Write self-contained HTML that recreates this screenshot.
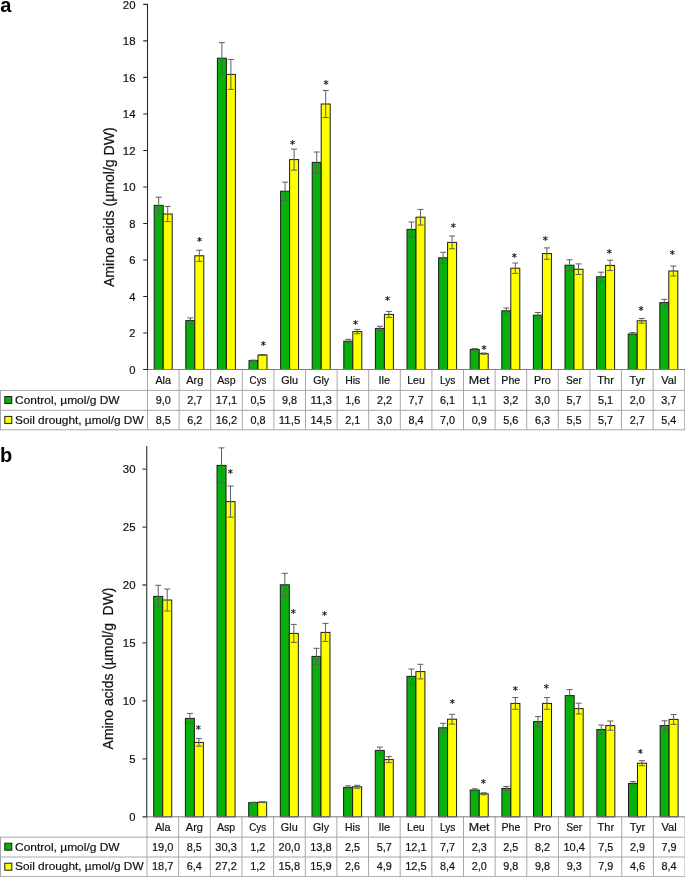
<!DOCTYPE html>
<html lang="en">
<head>
<meta charset="utf-8">
<title>Amino acids under soil drought</title>
<style>
html,body{margin:0;padding:0;background:#fff;}
body{width:685px;height:877px;overflow:hidden;font-family:"Liberation Sans",sans-serif;}
svg{display:block;}
</style>
</head>
<body>
<svg width="685" height="877" viewBox="0 0 685 877">
<rect width="685" height="877" fill="#ffffff"/>
<g id="chart-a">
<g stroke="#a8a8a8" stroke-width="1" fill="none" shape-rendering="auto">
<line x1="147.5" y1="369.5" x2="147.5" y2="429.8"/>
<line x1="179.1" y1="369.5" x2="179.1" y2="429.8"/>
<line x1="210.7" y1="369.5" x2="210.7" y2="429.8"/>
<line x1="242.3" y1="369.5" x2="242.3" y2="429.8"/>
<line x1="273.9" y1="369.5" x2="273.9" y2="429.8"/>
<line x1="305.5" y1="369.5" x2="305.5" y2="429.8"/>
<line x1="337.1" y1="369.5" x2="337.1" y2="429.8"/>
<line x1="368.7" y1="369.5" x2="368.7" y2="429.8"/>
<line x1="400.3" y1="369.5" x2="400.3" y2="429.8"/>
<line x1="431.9" y1="369.5" x2="431.9" y2="429.8"/>
<line x1="463.5" y1="369.5" x2="463.5" y2="429.8"/>
<line x1="495.1" y1="369.5" x2="495.1" y2="429.8"/>
<line x1="526.7" y1="369.5" x2="526.7" y2="429.8"/>
<line x1="558.3" y1="369.5" x2="558.3" y2="429.8"/>
<line x1="589.9" y1="369.5" x2="589.9" y2="429.8"/>
<line x1="621.5" y1="369.5" x2="621.5" y2="429.8"/>
<line x1="653.1" y1="369.5" x2="653.1" y2="429.8"/>
<line x1="684.7" y1="369.5" x2="684.7" y2="429.8"/>
<line x1="0.5" y1="390.4" x2="0.5" y2="429.8"/>
<line x1="0" y1="390.4" x2="685.6" y2="390.4"/>
<line x1="0" y1="410.3" x2="685.6" y2="410.3"/>
<line x1="0" y1="429.8" x2="685.6" y2="429.8"/>
</g>
<g stroke="#1c1c1c" stroke-width="1">
<rect x="154.2" y="205.4" width="9" height="164.1" fill="#08b00c"/>
<rect x="163.2" y="214" width="9" height="155.5" fill="#ffff00"/>
<rect x="185.8" y="320.6" width="9" height="48.9" fill="#08b00c"/>
<rect x="194.8" y="255.8" width="9" height="113.7" fill="#ffff00"/>
<rect x="217.4" y="58.2" width="9" height="311.3" fill="#08b00c"/>
<rect x="226.4" y="74.4" width="9" height="295.1" fill="#ffff00"/>
<rect x="249" y="360.6" width="9" height="8.9" fill="#08b00c"/>
<rect x="258" y="355" width="9" height="14.5" fill="#ffff00"/>
<rect x="280.6" y="191.2" width="9" height="178.3" fill="#08b00c"/>
<rect x="289.6" y="159.6" width="9" height="209.9" fill="#ffff00"/>
<rect x="312.2" y="162.4" width="9" height="207.1" fill="#08b00c"/>
<rect x="321.2" y="104" width="9" height="265.5" fill="#ffff00"/>
<rect x="343.8" y="341.2" width="9" height="28.3" fill="#08b00c"/>
<rect x="352.8" y="331.6" width="9" height="37.9" fill="#ffff00"/>
<rect x="375.4" y="328.4" width="9" height="41.1" fill="#08b00c"/>
<rect x="384.4" y="314.4" width="9" height="55.1" fill="#ffff00"/>
<rect x="407" y="229.4" width="9" height="140.1" fill="#08b00c"/>
<rect x="416" y="217.2" width="9" height="152.3" fill="#ffff00"/>
<rect x="438.6" y="257.8" width="9" height="111.7" fill="#08b00c"/>
<rect x="447.6" y="242.4" width="9" height="127.1" fill="#ffff00"/>
<rect x="470.2" y="349.4" width="9" height="20.1" fill="#08b00c"/>
<rect x="479.2" y="353.6" width="9" height="15.9" fill="#ffff00"/>
<rect x="501.8" y="310.8" width="9" height="58.7" fill="#08b00c"/>
<rect x="510.8" y="268.2" width="9" height="101.3" fill="#ffff00"/>
<rect x="533.4" y="315.2" width="9" height="54.3" fill="#08b00c"/>
<rect x="542.4" y="253.6" width="9" height="115.9" fill="#ffff00"/>
<rect x="565" y="265.2" width="9" height="104.3" fill="#08b00c"/>
<rect x="574" y="269.2" width="9" height="100.3" fill="#ffff00"/>
<rect x="596.6" y="276.8" width="9" height="92.7" fill="#08b00c"/>
<rect x="605.6" y="265.4" width="9" height="104.1" fill="#ffff00"/>
<rect x="628.2" y="334" width="9" height="35.5" fill="#08b00c"/>
<rect x="637.2" y="320.8" width="9" height="48.7" fill="#ffff00"/>
<rect x="659.8" y="302.6" width="9" height="66.9" fill="#08b00c"/>
<rect x="668.8" y="271" width="9" height="98.5" fill="#ffff00"/>
</g>
<line x1="143.4" y1="369.5" x2="685.6" y2="369.5" stroke="#7d7d7d" stroke-width="1"/>
<g stroke="#5f5f5f" stroke-width="1" fill="none">
<path d="M158.7 197.2V213.6M155.7 197.2h6M155.7 213.6h6"/>
<path d="M167.7 206.4V221.6M164.7 206.4h6M164.7 221.6h6"/>
<path d="M190.3 317.9V323.3M187.3 317.9h6M187.3 323.3h6"/>
<path d="M199.3 250.2V261.4M196.3 250.2h6M196.3 261.4h6"/>
<path d="M221.9 42.6V73.8M218.9 42.6h6M218.9 73.8h6"/>
<path d="M230.9 59.4V89.4M227.9 59.4h6M227.9 89.4h6"/>
<path d="M253.5 360.1V361.1M250.5 360.1h6M250.5 361.1h6"/>
<path d="M262.5 354.5V355.5M259.5 354.5h6M259.5 355.5h6"/>
<path d="M285.1 182.1V200.3M282.1 182.1h6M282.1 200.3h6"/>
<path d="M294.1 149.1V170.1M291.1 149.1h6M291.1 170.1h6"/>
<path d="M316.7 152V172.8M313.7 152h6M313.7 172.8h6"/>
<path d="M325.7 90.5V117.5M322.7 90.5h6M322.7 117.5h6"/>
<path d="M348.3 339.4V343M345.3 339.4h6M345.3 343h6"/>
<path d="M357.3 329.4V333.8M354.3 329.4h6M354.3 333.8h6"/>
<path d="M379.9 326.3V330.5M376.9 326.3h6M376.9 330.5h6"/>
<path d="M388.9 311.4V317.4M385.9 311.4h6M385.9 317.4h6"/>
<path d="M411.5 222V236.8M408.5 222h6M408.5 236.8h6"/>
<path d="M420.5 209.4V225M417.5 209.4h6M417.5 225h6"/>
<path d="M443.1 252.3V263.3M440.1 252.3h6M440.1 263.3h6"/>
<path d="M452.1 236V248.8M449.1 236h6M449.1 248.8h6"/>
<path d="M474.7 348.6V350.2M471.7 348.6h6M471.7 350.2h6"/>
<path d="M483.7 353V354.2M480.7 353h6M480.7 354.2h6"/>
<path d="M506.3 308V313.6M503.3 308h6M503.3 313.6h6"/>
<path d="M515.3 263V273.4M512.3 263h6M512.3 273.4h6"/>
<path d="M537.9 312.5V317.9M534.9 312.5h6M534.9 317.9h6"/>
<path d="M546.9 247.9V259.3M543.9 247.9h6M543.9 259.3h6"/>
<path d="M569.5 259.8V270.6M566.5 259.8h6M566.5 270.6h6"/>
<path d="M578.5 263.9V274.5M575.5 263.9h6M575.5 274.5h6"/>
<path d="M601.1 272.2V281.4M598.1 272.2h6M598.1 281.4h6"/>
<path d="M610.1 260.2V270.6M607.1 260.2h6M607.1 270.6h6"/>
<path d="M632.7 332.6V335.4M629.7 332.6h6M629.7 335.4h6"/>
<path d="M641.7 318.4V323.2M638.7 318.4h6M638.7 323.2h6"/>
<path d="M664.3 299.3V305.9M661.3 299.3h6M661.3 305.9h6"/>
<path d="M673.3 266V276M670.3 266h6M670.3 276h6"/>
</g>
<path d="M147.5 3.9V370M143.2 369.5H147.5M143.2 332.99H147.5M143.2 296.48H147.5M143.2 259.97H147.5M143.2 223.46H147.5M143.2 186.95H147.5M143.2 150.44H147.5M143.2 113.93H147.5M143.2 77.42H147.5M143.2 40.91H147.5M143.2 4.4H147.5" stroke="#2b2b2b" stroke-width="1.1" fill="none"/>
<g font-family="'Liberation Sans', sans-serif" font-size="11.5" fill="#111111" stroke="#111111" stroke-width="0.2">
<text x="135.5" y="373.6" text-anchor="end" font-size="11.3" textLength="6.24" lengthAdjust="spacingAndGlyphs">0</text>
<text x="135.5" y="337.09" text-anchor="end" font-size="11.3" textLength="6.24" lengthAdjust="spacingAndGlyphs">2</text>
<text x="135.5" y="300.58" text-anchor="end" font-size="11.3" textLength="6.24" lengthAdjust="spacingAndGlyphs">4</text>
<text x="135.5" y="264.07" text-anchor="end" font-size="11.3" textLength="6.24" lengthAdjust="spacingAndGlyphs">6</text>
<text x="135.5" y="227.56" text-anchor="end" font-size="11.3" textLength="6.24" lengthAdjust="spacingAndGlyphs">8</text>
<text x="135.5" y="191.05" text-anchor="end" font-size="11.3" textLength="12.68" lengthAdjust="spacingAndGlyphs">10</text>
<text x="135.5" y="154.54" text-anchor="end" font-size="11.3" textLength="12.68" lengthAdjust="spacingAndGlyphs">12</text>
<text x="135.5" y="118.03" text-anchor="end" font-size="11.3" textLength="12.68" lengthAdjust="spacingAndGlyphs">14</text>
<text x="135.5" y="81.52" text-anchor="end" font-size="11.3" textLength="12.68" lengthAdjust="spacingAndGlyphs">16</text>
<text x="135.5" y="45.01" text-anchor="end" font-size="11.3" textLength="12.68" lengthAdjust="spacingAndGlyphs">18</text>
<text x="135.5" y="8.5" text-anchor="end" font-size="11.3" textLength="12.68" lengthAdjust="spacingAndGlyphs">20</text>
<text x="163.2" y="383.8" text-anchor="middle" textLength="15.6" lengthAdjust="spacingAndGlyphs">Ala</text>
<text x="194.8" y="383.8" text-anchor="middle" textLength="17.1" lengthAdjust="spacingAndGlyphs">Arg</text>
<text x="226.4" y="383.8" text-anchor="middle" textLength="18.3" lengthAdjust="spacingAndGlyphs">Asp</text>
<text x="258" y="383.8" text-anchor="middle" textLength="16.8" lengthAdjust="spacingAndGlyphs">Cys</text>
<text x="289.6" y="383.8" text-anchor="middle" textLength="16.9" lengthAdjust="spacingAndGlyphs">Glu</text>
<text x="321.2" y="383.8" text-anchor="middle" textLength="16" lengthAdjust="spacingAndGlyphs">Gly</text>
<text x="352.8" y="383.8" text-anchor="middle" textLength="15.1" lengthAdjust="spacingAndGlyphs">His</text>
<text x="384.4" y="383.8" text-anchor="middle" textLength="11.7" lengthAdjust="spacingAndGlyphs">Ile</text>
<text x="416" y="383.8" text-anchor="middle" textLength="17.6" lengthAdjust="spacingAndGlyphs">Leu</text>
<text x="447.6" y="383.8" text-anchor="middle" textLength="15.4" lengthAdjust="spacingAndGlyphs">Lys</text>
<text x="479.2" y="383.8" text-anchor="middle" textLength="20.7" lengthAdjust="spacingAndGlyphs">Met</text>
<text x="510.8" y="383.8" text-anchor="middle" textLength="18.9" lengthAdjust="spacingAndGlyphs">Phe</text>
<text x="542.4" y="383.8" text-anchor="middle" textLength="17" lengthAdjust="spacingAndGlyphs">Pro</text>
<text x="574" y="383.8" text-anchor="middle" textLength="15.9" lengthAdjust="spacingAndGlyphs">Ser</text>
<text x="605.6" y="383.8" text-anchor="middle" textLength="16.6" lengthAdjust="spacingAndGlyphs">Thr</text>
<text x="637.2" y="383.8" text-anchor="middle" textLength="15.3" lengthAdjust="spacingAndGlyphs">Tyr</text>
<text x="668.8" y="383.8" text-anchor="middle" textLength="15.3" lengthAdjust="spacingAndGlyphs">Val</text>
<text x="163.2" y="403.9" text-anchor="middle" font-size="10.8" textLength="15.05" lengthAdjust="spacingAndGlyphs">9,0</text>
<text x="194.8" y="403.9" text-anchor="middle" font-size="10.8" textLength="15.05" lengthAdjust="spacingAndGlyphs">2,7</text>
<text x="226.4" y="403.9" text-anchor="middle" font-size="10.8" textLength="21.49" lengthAdjust="spacingAndGlyphs">17,1</text>
<text x="258" y="403.9" text-anchor="middle" font-size="10.8" textLength="15.05" lengthAdjust="spacingAndGlyphs">0,5</text>
<text x="289.6" y="403.9" text-anchor="middle" font-size="10.8" textLength="15.05" lengthAdjust="spacingAndGlyphs">9,8</text>
<text x="321.2" y="403.9" text-anchor="middle" font-size="10.8" textLength="21.49" lengthAdjust="spacingAndGlyphs">11,3</text>
<text x="352.8" y="403.9" text-anchor="middle" font-size="10.8" textLength="15.05" lengthAdjust="spacingAndGlyphs">1,6</text>
<text x="384.4" y="403.9" text-anchor="middle" font-size="10.8" textLength="15.05" lengthAdjust="spacingAndGlyphs">2,2</text>
<text x="416" y="403.9" text-anchor="middle" font-size="10.8" textLength="15.05" lengthAdjust="spacingAndGlyphs">7,7</text>
<text x="447.6" y="403.9" text-anchor="middle" font-size="10.8" textLength="15.05" lengthAdjust="spacingAndGlyphs">6,1</text>
<text x="479.2" y="403.9" text-anchor="middle" font-size="10.8" textLength="15.05" lengthAdjust="spacingAndGlyphs">1,1</text>
<text x="510.8" y="403.9" text-anchor="middle" font-size="10.8" textLength="15.05" lengthAdjust="spacingAndGlyphs">3,2</text>
<text x="542.4" y="403.9" text-anchor="middle" font-size="10.8" textLength="15.05" lengthAdjust="spacingAndGlyphs">3,0</text>
<text x="574" y="403.9" text-anchor="middle" font-size="10.8" textLength="15.05" lengthAdjust="spacingAndGlyphs">5,7</text>
<text x="605.6" y="403.9" text-anchor="middle" font-size="10.8" textLength="15.05" lengthAdjust="spacingAndGlyphs">5,1</text>
<text x="637.2" y="403.9" text-anchor="middle" font-size="10.8" textLength="15.05" lengthAdjust="spacingAndGlyphs">2,0</text>
<text x="668.8" y="403.9" text-anchor="middle" font-size="10.8" textLength="15.05" lengthAdjust="spacingAndGlyphs">3,7</text>
<text x="163.2" y="423.6" text-anchor="middle" font-size="10.8" textLength="15.05" lengthAdjust="spacingAndGlyphs">8,5</text>
<text x="194.8" y="423.6" text-anchor="middle" font-size="10.8" textLength="15.05" lengthAdjust="spacingAndGlyphs">6,2</text>
<text x="226.4" y="423.6" text-anchor="middle" font-size="10.8" textLength="21.49" lengthAdjust="spacingAndGlyphs">16,2</text>
<text x="258" y="423.6" text-anchor="middle" font-size="10.8" textLength="15.05" lengthAdjust="spacingAndGlyphs">0,8</text>
<text x="289.6" y="423.6" text-anchor="middle" font-size="10.8" textLength="21.49" lengthAdjust="spacingAndGlyphs">11,5</text>
<text x="321.2" y="423.6" text-anchor="middle" font-size="10.8" textLength="21.49" lengthAdjust="spacingAndGlyphs">14,5</text>
<text x="352.8" y="423.6" text-anchor="middle" font-size="10.8" textLength="15.05" lengthAdjust="spacingAndGlyphs">2,1</text>
<text x="384.4" y="423.6" text-anchor="middle" font-size="10.8" textLength="15.05" lengthAdjust="spacingAndGlyphs">3,0</text>
<text x="416" y="423.6" text-anchor="middle" font-size="10.8" textLength="15.05" lengthAdjust="spacingAndGlyphs">8,4</text>
<text x="447.6" y="423.6" text-anchor="middle" font-size="10.8" textLength="15.05" lengthAdjust="spacingAndGlyphs">7,0</text>
<text x="479.2" y="423.6" text-anchor="middle" font-size="10.8" textLength="15.05" lengthAdjust="spacingAndGlyphs">0,9</text>
<text x="510.8" y="423.6" text-anchor="middle" font-size="10.8" textLength="15.05" lengthAdjust="spacingAndGlyphs">5,6</text>
<text x="542.4" y="423.6" text-anchor="middle" font-size="10.8" textLength="15.05" lengthAdjust="spacingAndGlyphs">6,3</text>
<text x="574" y="423.6" text-anchor="middle" font-size="10.8" textLength="15.05" lengthAdjust="spacingAndGlyphs">5,5</text>
<text x="605.6" y="423.6" text-anchor="middle" font-size="10.8" textLength="15.05" lengthAdjust="spacingAndGlyphs">5,7</text>
<text x="637.2" y="423.6" text-anchor="middle" font-size="10.8" textLength="15.05" lengthAdjust="spacingAndGlyphs">2,7</text>
<text x="668.8" y="423.6" text-anchor="middle" font-size="10.8" textLength="15.05" lengthAdjust="spacingAndGlyphs">5,4</text>
<text x="199.6" y="245.3" text-anchor="middle" font-family="'DejaVu Sans', 'Liberation Sans', sans-serif" font-size="10.2" stroke-width="0.22">*</text>
<text x="263.2" y="349.3" text-anchor="middle" font-family="'DejaVu Sans', 'Liberation Sans', sans-serif" font-size="10.2" stroke-width="0.22">*</text>
<text x="292.6" y="147.5" text-anchor="middle" font-family="'DejaVu Sans', 'Liberation Sans', sans-serif" font-size="10.2" stroke-width="0.22">*</text>
<text x="326" y="87.7" text-anchor="middle" font-family="'DejaVu Sans', 'Liberation Sans', sans-serif" font-size="10.2" stroke-width="0.22">*</text>
<text x="355.6" y="327.9" text-anchor="middle" font-family="'DejaVu Sans', 'Liberation Sans', sans-serif" font-size="10.2" stroke-width="0.22">*</text>
<text x="387.6" y="304.3" text-anchor="middle" font-family="'DejaVu Sans', 'Liberation Sans', sans-serif" font-size="10.2" stroke-width="0.22">*</text>
<text x="453.4" y="230.7" text-anchor="middle" font-family="'DejaVu Sans', 'Liberation Sans', sans-serif" font-size="10.2" stroke-width="0.22">*</text>
<text x="484" y="352.9" text-anchor="middle" font-family="'DejaVu Sans', 'Liberation Sans', sans-serif" font-size="10.2" stroke-width="0.22">*</text>
<text x="514.2" y="261.1" text-anchor="middle" font-family="'DejaVu Sans', 'Liberation Sans', sans-serif" font-size="10.2" stroke-width="0.22">*</text>
<text x="545.4" y="243.9" text-anchor="middle" font-family="'DejaVu Sans', 'Liberation Sans', sans-serif" font-size="10.2" stroke-width="0.22">*</text>
<text x="609.4" y="257.1" text-anchor="middle" font-family="'DejaVu Sans', 'Liberation Sans', sans-serif" font-size="10.2" stroke-width="0.22">*</text>
<text x="641" y="313.9" text-anchor="middle" font-family="'DejaVu Sans', 'Liberation Sans', sans-serif" font-size="10.2" stroke-width="0.22">*</text>
<text x="672.4" y="258.3" text-anchor="middle" font-family="'DejaVu Sans', 'Liberation Sans', sans-serif" font-size="10.2" stroke-width="0.22">*</text>
<text x="15.1" y="403.9" textLength="104.5" lengthAdjust="spacingAndGlyphs">Control, µmol/g DW</text>
<text x="15.1" y="423.6" textLength="128.5" lengthAdjust="spacingAndGlyphs">Soil drought, µmol/g DW</text>
<text transform="translate(114.3 287) rotate(-90)" font-size="14" textLength="159.6" lengthAdjust="spacingAndGlyphs" xml:space="preserve" style="white-space:pre">Amino acids (µmol/g DW)</text>
</g>
<rect x="4.8" y="396.5" width="7" height="7" fill="#08b00c" stroke="#1c1c1c" stroke-width="1"/>
<rect x="4.8" y="416.4" width="7" height="7" fill="#ffff00" stroke="#1c1c1c" stroke-width="1"/>
<text x="0.2" y="11.8" font-family="'Liberation Sans', sans-serif" font-weight="bold" font-size="20" fill="#000">a</text>
</g>
<g id="chart-b">
<g stroke="#a8a8a8" stroke-width="1" fill="none" shape-rendering="auto">
<line x1="147" y1="816.8" x2="147" y2="876.6"/>
<line x1="178.65" y1="816.8" x2="178.65" y2="876.6"/>
<line x1="210.3" y1="816.8" x2="210.3" y2="876.6"/>
<line x1="241.95" y1="816.8" x2="241.95" y2="876.6"/>
<line x1="273.6" y1="816.8" x2="273.6" y2="876.6"/>
<line x1="305.25" y1="816.8" x2="305.25" y2="876.6"/>
<line x1="336.9" y1="816.8" x2="336.9" y2="876.6"/>
<line x1="368.55" y1="816.8" x2="368.55" y2="876.6"/>
<line x1="400.2" y1="816.8" x2="400.2" y2="876.6"/>
<line x1="431.85" y1="816.8" x2="431.85" y2="876.6"/>
<line x1="463.5" y1="816.8" x2="463.5" y2="876.6"/>
<line x1="495.15" y1="816.8" x2="495.15" y2="876.6"/>
<line x1="526.8" y1="816.8" x2="526.8" y2="876.6"/>
<line x1="558.45" y1="816.8" x2="558.45" y2="876.6"/>
<line x1="590.1" y1="816.8" x2="590.1" y2="876.6"/>
<line x1="621.75" y1="816.8" x2="621.75" y2="876.6"/>
<line x1="653.4" y1="816.8" x2="653.4" y2="876.6"/>
<line x1="685.05" y1="816.8" x2="685.05" y2="876.6"/>
<line x1="0.5" y1="837.2" x2="0.5" y2="876.6"/>
<line x1="0" y1="837.2" x2="685.95" y2="837.2"/>
<line x1="0" y1="857" x2="685.95" y2="857"/>
<line x1="0" y1="876.6" x2="685.95" y2="876.6"/>
</g>
<g stroke="#1c1c1c" stroke-width="1">
<rect x="153.72" y="596.4" width="9" height="220.4" fill="#08b00c"/>
<rect x="162.72" y="600" width="9" height="216.8" fill="#ffff00"/>
<rect x="185.38" y="718.4" width="9" height="98.4" fill="#08b00c"/>
<rect x="194.38" y="742.4" width="9" height="74.4" fill="#ffff00"/>
<rect x="217.03" y="465.4" width="9" height="351.4" fill="#08b00c"/>
<rect x="226.03" y="501.6" width="9" height="315.2" fill="#ffff00"/>
<rect x="248.68" y="802.6" width="9" height="14.2" fill="#08b00c"/>
<rect x="257.68" y="802.2" width="9" height="14.6" fill="#ffff00"/>
<rect x="280.32" y="584.8" width="9" height="232" fill="#08b00c"/>
<rect x="289.32" y="633.4" width="9" height="183.4" fill="#ffff00"/>
<rect x="311.98" y="656.4" width="9" height="160.4" fill="#08b00c"/>
<rect x="320.98" y="632.4" width="9" height="184.4" fill="#ffff00"/>
<rect x="343.62" y="787.4" width="9" height="29.4" fill="#08b00c"/>
<rect x="352.62" y="786.8" width="9" height="30" fill="#ffff00"/>
<rect x="375.27" y="750.4" width="9" height="66.4" fill="#08b00c"/>
<rect x="384.27" y="759.6" width="9" height="57.2" fill="#ffff00"/>
<rect x="406.92" y="676.4" width="9" height="140.4" fill="#08b00c"/>
<rect x="415.92" y="671.6" width="9" height="145.2" fill="#ffff00"/>
<rect x="438.58" y="727.8" width="9" height="89" fill="#08b00c"/>
<rect x="447.58" y="719.2" width="9" height="97.6" fill="#ffff00"/>
<rect x="470.23" y="790" width="9" height="26.8" fill="#08b00c"/>
<rect x="479.23" y="793.8" width="9" height="23" fill="#ffff00"/>
<rect x="501.88" y="788.4" width="9" height="28.4" fill="#08b00c"/>
<rect x="510.88" y="703.4" width="9" height="113.4" fill="#ffff00"/>
<rect x="533.52" y="721.6" width="9" height="95.2" fill="#08b00c"/>
<rect x="542.52" y="703.4" width="9" height="113.4" fill="#ffff00"/>
<rect x="565.17" y="695.6" width="9" height="121.2" fill="#08b00c"/>
<rect x="574.17" y="708.6" width="9" height="108.2" fill="#ffff00"/>
<rect x="596.82" y="729.6" width="9" height="87.2" fill="#08b00c"/>
<rect x="605.82" y="725.6" width="9" height="91.2" fill="#ffff00"/>
<rect x="628.48" y="783.4" width="9" height="33.4" fill="#08b00c"/>
<rect x="637.48" y="763.2" width="9" height="53.6" fill="#ffff00"/>
<rect x="660.12" y="725.6" width="9" height="91.2" fill="#08b00c"/>
<rect x="669.12" y="719.4" width="9" height="97.4" fill="#ffff00"/>
</g>
<line x1="142.9" y1="816.8" x2="685.95" y2="816.8" stroke="#7d7d7d" stroke-width="1"/>
<g stroke="#5f5f5f" stroke-width="1" fill="none">
<path d="M158.22 585.3V607.5M155.22 585.3h6M155.22 607.5h6"/>
<path d="M167.22 589V611M164.22 589h6M164.22 611h6"/>
<path d="M189.88 713.4V723.4M186.88 713.4h6M186.88 723.4h6"/>
<path d="M198.88 738.6V746.2M195.88 738.6h6M195.88 746.2h6"/>
<path d="M221.53 447.9V482.9M218.53 447.9h6M218.53 482.9h6"/>
<path d="M230.53 486V517.2M227.53 486h6M227.53 517.2h6"/>
<path d="M253.18 802.2V803M250.18 802.2h6M250.18 803h6"/>
<path d="M262.18 801.8V802.6M259.18 801.8h6M259.18 802.6h6"/>
<path d="M284.82 573.3V596.3M281.82 573.3h6M281.82 596.3h6"/>
<path d="M293.82 624.4V642.4M290.82 624.4h6M290.82 642.4h6"/>
<path d="M316.48 648.3V664.5M313.48 648.3h6M313.48 664.5h6"/>
<path d="M325.48 623.4V641.4M322.48 623.4h6M322.48 641.4h6"/>
<path d="M348.12 785.8V789M345.12 785.8h6M345.12 789h6"/>
<path d="M357.12 785.3V788.3M354.12 785.3h6M354.12 788.3h6"/>
<path d="M379.77 747.1V753.7M376.77 747.1h6M376.77 753.7h6"/>
<path d="M388.77 756.6V762.6M385.77 756.6h6M385.77 762.6h6"/>
<path d="M411.42 669V683.8M408.42 669h6M408.42 683.8h6"/>
<path d="M420.42 664.3V678.9M417.42 664.3h6M417.42 678.9h6"/>
<path d="M443.08 723.3V732.3M440.08 723.3h6M440.08 732.3h6"/>
<path d="M452.08 714.3V724.1M449.08 714.3h6M449.08 724.1h6"/>
<path d="M474.73 788.8V791.2M471.73 788.8h6M471.73 791.2h6"/>
<path d="M483.73 792.8V794.8M480.73 792.8h6M480.73 794.8h6"/>
<path d="M506.38 786.4V790.4M503.38 786.4h6M503.38 790.4h6"/>
<path d="M515.38 697.5V709.3M512.38 697.5h6M512.38 709.3h6"/>
<path d="M538.02 716.6V726.6M535.02 716.6h6M535.02 726.6h6"/>
<path d="M547.02 697.5V709.3M544.02 697.5h6M544.02 709.3h6"/>
<path d="M569.67 689.6V701.6M566.67 689.6h6M566.67 701.6h6"/>
<path d="M578.67 703.2V714M575.67 703.2h6M575.67 714h6"/>
<path d="M601.32 725.1V734.1M598.32 725.1h6M598.32 734.1h6"/>
<path d="M610.32 721V730.2M607.32 721h6M607.32 730.2h6"/>
<path d="M632.98 781.6V785.2M629.98 781.6h6M629.98 785.2h6"/>
<path d="M641.98 760.7V765.7M638.98 760.7h6M638.98 765.7h6"/>
<path d="M664.62 720.8V730.4M661.62 720.8h6M661.62 730.4h6"/>
<path d="M673.62 714.5V724.3M670.62 714.5h6M670.62 724.3h6"/>
</g>
<path d="M146.7 445.9V817.3M142.4 816.8H146.7M142.4 758.85H146.7M142.4 700.9H146.7M142.4 642.95H146.7M142.4 585H146.7M142.4 527.05H146.7M142.4 469.1H146.7" stroke="#4d4d4d" stroke-width="1.3" fill="none"/>
<g font-family="'Liberation Sans', sans-serif" font-size="11.5" fill="#111111" stroke="#111111" stroke-width="0.2">
<text x="135.5" y="820.9" text-anchor="end" font-size="11.3" textLength="6.24" lengthAdjust="spacingAndGlyphs">0</text>
<text x="135.5" y="762.95" text-anchor="end" font-size="11.3" textLength="6.24" lengthAdjust="spacingAndGlyphs">5</text>
<text x="135.5" y="705" text-anchor="end" font-size="11.3" textLength="12.68" lengthAdjust="spacingAndGlyphs">10</text>
<text x="135.5" y="647.05" text-anchor="end" font-size="11.3" textLength="12.68" lengthAdjust="spacingAndGlyphs">15</text>
<text x="135.5" y="589.1" text-anchor="end" font-size="11.3" textLength="12.68" lengthAdjust="spacingAndGlyphs">20</text>
<text x="135.5" y="531.15" text-anchor="end" font-size="11.3" textLength="12.68" lengthAdjust="spacingAndGlyphs">25</text>
<text x="135.5" y="473.2" text-anchor="end" font-size="11.3" textLength="12.68" lengthAdjust="spacingAndGlyphs">30</text>
<text x="162.72" y="830.6" text-anchor="middle" textLength="15.6" lengthAdjust="spacingAndGlyphs">Ala</text>
<text x="194.38" y="830.6" text-anchor="middle" textLength="17.1" lengthAdjust="spacingAndGlyphs">Arg</text>
<text x="226.03" y="830.6" text-anchor="middle" textLength="18.3" lengthAdjust="spacingAndGlyphs">Asp</text>
<text x="257.68" y="830.6" text-anchor="middle" textLength="16.8" lengthAdjust="spacingAndGlyphs">Cys</text>
<text x="289.32" y="830.6" text-anchor="middle" textLength="16.9" lengthAdjust="spacingAndGlyphs">Glu</text>
<text x="320.98" y="830.6" text-anchor="middle" textLength="16" lengthAdjust="spacingAndGlyphs">Gly</text>
<text x="352.62" y="830.6" text-anchor="middle" textLength="15.1" lengthAdjust="spacingAndGlyphs">His</text>
<text x="384.27" y="830.6" text-anchor="middle" textLength="11.7" lengthAdjust="spacingAndGlyphs">Ile</text>
<text x="415.92" y="830.6" text-anchor="middle" textLength="17.6" lengthAdjust="spacingAndGlyphs">Leu</text>
<text x="447.58" y="830.6" text-anchor="middle" textLength="15.4" lengthAdjust="spacingAndGlyphs">Lys</text>
<text x="479.23" y="830.6" text-anchor="middle" textLength="20.7" lengthAdjust="spacingAndGlyphs">Met</text>
<text x="510.88" y="830.6" text-anchor="middle" textLength="18.9" lengthAdjust="spacingAndGlyphs">Phe</text>
<text x="542.52" y="830.6" text-anchor="middle" textLength="17" lengthAdjust="spacingAndGlyphs">Pro</text>
<text x="574.17" y="830.6" text-anchor="middle" textLength="15.9" lengthAdjust="spacingAndGlyphs">Ser</text>
<text x="605.82" y="830.6" text-anchor="middle" textLength="16.6" lengthAdjust="spacingAndGlyphs">Thr</text>
<text x="637.48" y="830.6" text-anchor="middle" textLength="15.3" lengthAdjust="spacingAndGlyphs">Tyr</text>
<text x="669.12" y="830.6" text-anchor="middle" textLength="15.3" lengthAdjust="spacingAndGlyphs">Val</text>
<text x="162.72" y="850.6" text-anchor="middle" font-size="10.8" textLength="21.49" lengthAdjust="spacingAndGlyphs">19,0</text>
<text x="194.38" y="850.6" text-anchor="middle" font-size="10.8" textLength="15.05" lengthAdjust="spacingAndGlyphs">8,5</text>
<text x="226.03" y="850.6" text-anchor="middle" font-size="10.8" textLength="21.49" lengthAdjust="spacingAndGlyphs">30,3</text>
<text x="257.68" y="850.6" text-anchor="middle" font-size="10.8" textLength="15.05" lengthAdjust="spacingAndGlyphs">1,2</text>
<text x="289.32" y="850.6" text-anchor="middle" font-size="10.8" textLength="21.49" lengthAdjust="spacingAndGlyphs">20,0</text>
<text x="320.98" y="850.6" text-anchor="middle" font-size="10.8" textLength="21.49" lengthAdjust="spacingAndGlyphs">13,8</text>
<text x="352.62" y="850.6" text-anchor="middle" font-size="10.8" textLength="15.05" lengthAdjust="spacingAndGlyphs">2,5</text>
<text x="384.27" y="850.6" text-anchor="middle" font-size="10.8" textLength="15.05" lengthAdjust="spacingAndGlyphs">5,7</text>
<text x="415.92" y="850.6" text-anchor="middle" font-size="10.8" textLength="21.49" lengthAdjust="spacingAndGlyphs">12,1</text>
<text x="447.58" y="850.6" text-anchor="middle" font-size="10.8" textLength="15.05" lengthAdjust="spacingAndGlyphs">7,7</text>
<text x="479.23" y="850.6" text-anchor="middle" font-size="10.8" textLength="15.05" lengthAdjust="spacingAndGlyphs">2,3</text>
<text x="510.88" y="850.6" text-anchor="middle" font-size="10.8" textLength="15.05" lengthAdjust="spacingAndGlyphs">2,5</text>
<text x="542.52" y="850.6" text-anchor="middle" font-size="10.8" textLength="15.05" lengthAdjust="spacingAndGlyphs">8,2</text>
<text x="574.17" y="850.6" text-anchor="middle" font-size="10.8" textLength="21.49" lengthAdjust="spacingAndGlyphs">10,4</text>
<text x="605.82" y="850.6" text-anchor="middle" font-size="10.8" textLength="15.05" lengthAdjust="spacingAndGlyphs">7,5</text>
<text x="637.48" y="850.6" text-anchor="middle" font-size="10.8" textLength="15.05" lengthAdjust="spacingAndGlyphs">2,9</text>
<text x="669.12" y="850.6" text-anchor="middle" font-size="10.8" textLength="15.05" lengthAdjust="spacingAndGlyphs">7,9</text>
<text x="162.72" y="870.4" text-anchor="middle" font-size="10.8" textLength="21.49" lengthAdjust="spacingAndGlyphs">18,7</text>
<text x="194.38" y="870.4" text-anchor="middle" font-size="10.8" textLength="15.05" lengthAdjust="spacingAndGlyphs">6,4</text>
<text x="226.03" y="870.4" text-anchor="middle" font-size="10.8" textLength="21.49" lengthAdjust="spacingAndGlyphs">27,2</text>
<text x="257.68" y="870.4" text-anchor="middle" font-size="10.8" textLength="15.05" lengthAdjust="spacingAndGlyphs">1,2</text>
<text x="289.32" y="870.4" text-anchor="middle" font-size="10.8" textLength="21.49" lengthAdjust="spacingAndGlyphs">15,8</text>
<text x="320.98" y="870.4" text-anchor="middle" font-size="10.8" textLength="21.49" lengthAdjust="spacingAndGlyphs">15,9</text>
<text x="352.62" y="870.4" text-anchor="middle" font-size="10.8" textLength="15.05" lengthAdjust="spacingAndGlyphs">2,6</text>
<text x="384.27" y="870.4" text-anchor="middle" font-size="10.8" textLength="15.05" lengthAdjust="spacingAndGlyphs">4,9</text>
<text x="415.92" y="870.4" text-anchor="middle" font-size="10.8" textLength="21.49" lengthAdjust="spacingAndGlyphs">12,5</text>
<text x="447.58" y="870.4" text-anchor="middle" font-size="10.8" textLength="15.05" lengthAdjust="spacingAndGlyphs">8,4</text>
<text x="479.23" y="870.4" text-anchor="middle" font-size="10.8" textLength="15.05" lengthAdjust="spacingAndGlyphs">2,0</text>
<text x="510.88" y="870.4" text-anchor="middle" font-size="10.8" textLength="15.05" lengthAdjust="spacingAndGlyphs">9,8</text>
<text x="542.52" y="870.4" text-anchor="middle" font-size="10.8" textLength="15.05" lengthAdjust="spacingAndGlyphs">9,8</text>
<text x="574.17" y="870.4" text-anchor="middle" font-size="10.8" textLength="15.05" lengthAdjust="spacingAndGlyphs">9,3</text>
<text x="605.82" y="870.4" text-anchor="middle" font-size="10.8" textLength="15.05" lengthAdjust="spacingAndGlyphs">7,9</text>
<text x="637.48" y="870.4" text-anchor="middle" font-size="10.8" textLength="15.05" lengthAdjust="spacingAndGlyphs">4,6</text>
<text x="669.12" y="870.4" text-anchor="middle" font-size="10.8" textLength="15.05" lengthAdjust="spacingAndGlyphs">8,4</text>
<text x="198.2" y="733.3" text-anchor="middle" font-family="'DejaVu Sans', 'Liberation Sans', sans-serif" font-size="10.2" stroke-width="0.22">*</text>
<text x="230.2" y="476.9" text-anchor="middle" font-family="'DejaVu Sans', 'Liberation Sans', sans-serif" font-size="10.2" stroke-width="0.22">*</text>
<text x="293.4" y="617.3" text-anchor="middle" font-family="'DejaVu Sans', 'Liberation Sans', sans-serif" font-size="10.2" stroke-width="0.22">*</text>
<text x="324.6" y="618.9" text-anchor="middle" font-family="'DejaVu Sans', 'Liberation Sans', sans-serif" font-size="10.2" stroke-width="0.22">*</text>
<text x="452.4" y="707.3" text-anchor="middle" font-family="'DejaVu Sans', 'Liberation Sans', sans-serif" font-size="10.2" stroke-width="0.22">*</text>
<text x="483.2" y="786.7" text-anchor="middle" font-family="'DejaVu Sans', 'Liberation Sans', sans-serif" font-size="10.2" stroke-width="0.22">*</text>
<text x="515.2" y="693.5" text-anchor="middle" font-family="'DejaVu Sans', 'Liberation Sans', sans-serif" font-size="10.2" stroke-width="0.22">*</text>
<text x="546.4" y="692.3" text-anchor="middle" font-family="'DejaVu Sans', 'Liberation Sans', sans-serif" font-size="10.2" stroke-width="0.22">*</text>
<text x="640.2" y="756.5" text-anchor="middle" font-family="'DejaVu Sans', 'Liberation Sans', sans-serif" font-size="10.2" stroke-width="0.22">*</text>
<text x="15.1" y="850.6" textLength="104.5" lengthAdjust="spacingAndGlyphs">Control, µmol/g DW</text>
<text x="15.1" y="870.4" textLength="128.5" lengthAdjust="spacingAndGlyphs">Soil drought, µmol/g DW</text>
<text transform="translate(112.9 749.4) rotate(-90)" font-size="14" textLength="161.8" lengthAdjust="spacingAndGlyphs" xml:space="preserve" style="white-space:pre">Amino acids (µmol/g  DW)</text>
</g>
<rect x="4.8" y="843.2" width="7" height="7" fill="#08b00c" stroke="#1c1c1c" stroke-width="1"/>
<rect x="4.8" y="863.2" width="7" height="7" fill="#ffff00" stroke="#1c1c1c" stroke-width="1"/>
<text x="0.1" y="461.8" font-family="'Liberation Sans', sans-serif" font-weight="bold" font-size="20" fill="#000">b</text>
</g>
</svg>
</body>
</html>
